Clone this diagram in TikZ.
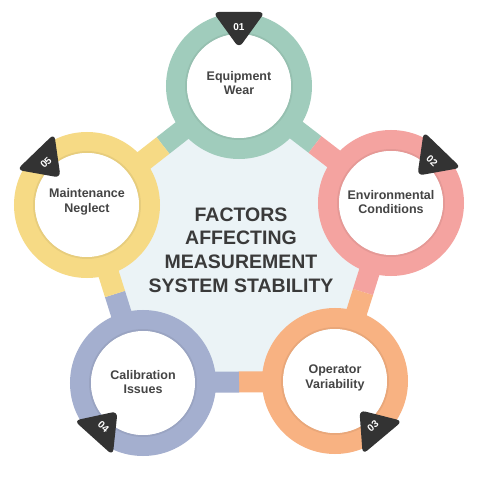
\documentclass[tikz,border=0pt]{standalone}
\usepackage{fontspec}
\setmainfont{Liberation Sans}
\usetikzlibrary{calc}
\definecolor{cgreen}{RGB}{160,204,188}
\definecolor{cpink}{RGB}{244,163,160}
\definecolor{corange}{RGB}{248,178,130}
\definecolor{cblue}{RGB}{164,175,207}
\definecolor{cyellow}{RGB}{246,218,133}
\definecolor{cfill}{RGB}{235,243,246}
\definecolor{cbadge}{RGB}{51,51,51}
\definecolor{ctext}{RGB}{68,68,68}
\definecolor{ctitle}{RGB}{58,58,58}
\newcommand\mybadge[5]{%
  \begin{scope}[shift={(#1)}, rotate=#2-90]
    \fill[cbadge, rounded corners=6pt] (0,74) -- (26,74) -- (0,38) -- (-26,74) -- cycle;
    \node[badgetext, rotate=#4] (#5) at (0,59) {#3};
  \end{scope}}
\begin{document}
\begin{tikzpicture}[x=1pt,y=1pt,
  band/.style={line width=21pt, line cap=butt},
  ringline/.style={line width=21pt},
  labeltext/.style={inner sep=0pt, align=center,
    text=ctext, font=\bfseries\fontsize{12.5}{14.5}\selectfont},
  badgetext/.style={text=white, inner sep=0pt, font=\bfseries\fontsize{10}{12}\selectfont},
  titletext/.style={text=ctitle, align=center, font=\bfseries\fontsize{19.5}{23.7}\selectfont}]
\useasboundingbox (0,0) rectangle (480,480);
\fill[white] (0,0) rectangle (480,480);
\coordinate (C1) at (239,394);
\coordinate (C2) at (391,277);
\coordinate (C3) at (335,99);
\coordinate (C4) at (143,97);
\coordinate (C5) at (87,275);
\coordinate (M12) at ($(C1)!0.5!(C2)$);
\coordinate (M23) at ($(C2)!0.5!(C3)$);
\coordinate (M34) at ($(C3)!0.5!(C4)$);
\coordinate (M45) at ($(C4)!0.5!(C5)$);
\coordinate (M51) at ($(C5)!0.5!(C1)$);
% pentagon fill
\fill[cfill] (C1) -- (C2) -- (C3) -- (C4) -- (C5) -- cycle;
% bands
\draw[band, cgreen] (M51) -- (C1);
\draw[band, cgreen] (C1) -- (M12);
\draw[band, cpink] (M12) -- (C2);
\draw[band, cpink] (C2) -- (M23);
\draw[band, corange] (M23) -- (C3);
\draw[band, corange] (C3) -- (M34);
\draw[band, cblue] (M34) -- (C4);
\draw[band, cblue] (C4) -- (M45);
\draw[band, cyellow] (M45) -- (C5);
\draw[band, cyellow] (C5) -- (M51);
% rings
\draw[ringline, cgreen] (C1) circle (62.5);
\draw[ringline, cpink] (C2) circle (62.5);
\draw[ringline, corange] (C3) circle (62.5);
\draw[ringline, cblue] (C4) circle (62.5);
\draw[ringline, cyellow] (C5) circle (62.5);
% soft shadows and white discs
\foreach \c in {C1,C2,C3,C4,C5} {
  \fill[black, opacity=0.06] (\c) circle (54);
  \fill[white] (\c) circle (52);
}
% labels
\node[labeltext] (n1) at ($(C1)+(0,3)$) {Equipment\\Wear};
\node[labeltext] (n2) at ($(C2)+(0,1)$) {Environmental\\Conditions};
\node[labeltext] (n3) at ($(C3)+(0,3)$) {Operator\\Variability};
\node[labeltext] (n4) at ($(C4)+(0,1)$) {Calibration\\Issues};
\node[labeltext] (n5) at ($(C5)+(0,3)$) {Maintenance\\Neglect};
% badges
\mybadge{C1}{90}{01}{0}{b1}
\mybadge{C2}{46}{02}{-44}{b2}
\mybadge{C3}{-50}{03}{40}{b3}
\mybadge{C4}{-132}{04}{-42}{b4}
\mybadge{C5}{134}{05}{44}{b5}
% title
\node[titletext] (title) at (241,230) {FACTORS\\AFFECTING\\MEASUREMENT\\SYSTEM STABILITY};
\end{tikzpicture}
\end{document}
